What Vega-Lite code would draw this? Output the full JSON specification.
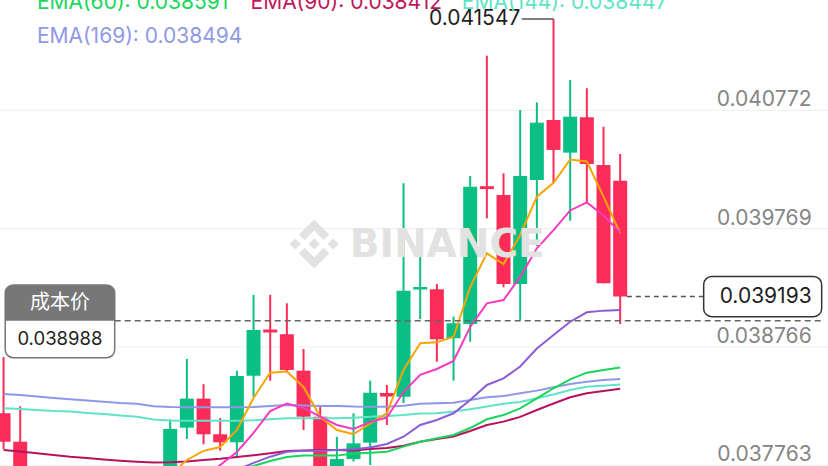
{
  "$schema": "https://vega.github.io/schema/vega-lite/v6.json",
  "width": 828,
  "height": 466,
  "autosize": {"type": "none"},
  "padding": 0,
  "background": "white",
  "config": {"view": {"stroke": null}, "font": "Inter"},
  "datasets": {
    "one": [{"a": 1}],
    "ticks": [{"p": 0.040772}, {"p": 0.039769}, {"p": 0.038766}, {"p": 0.037763}]
  },
  "data": {
    "values": [
      {"i": -1, "o": 0.038204, "h": 0.038681, "l": 0.037901, "c": 0.037963, "e90": 0.037893, "e144": 0.038246, "e169": 0.038367},
      {"i": 0, "o": 0.037963, "h": 0.038263, "l": 0.037596, "c": 0.037681, "e90": 0.03788, "e144": 0.03824, "e169": 0.038359},
      {"i": 1, "e90": 0.037865, "e144": 0.038232, "e169": 0.038346},
      {"i": 2, "e90": 0.037851, "e144": 0.038223, "e169": 0.038334},
      {"i": 3, "e90": 0.037836, "e144": 0.038218, "e169": 0.038323},
      {"i": 4, "e90": 0.037825, "e144": 0.038207, "e169": 0.038312},
      {"i": 5, "e90": 0.037812, "e144": 0.038198, "e169": 0.038302},
      {"i": 6, "e90": 0.037802, "e144": 0.038185, "e169": 0.038291},
      {"i": 7, "e90": 0.037794, "e144": 0.038175, "e169": 0.038285},
      {"i": 8, "e90": 0.037787, "e144": 0.038151, "e169": 0.038263},
      {"i": 9, "o": 0.037639, "h": 0.038153, "l": 0.037554, "c": 0.038071, "e7": 0.037681, "e90": 0.037789, "e144": 0.038143, "e169": 0.038257},
      {"i": 10, "o": 0.038082, "h": 0.038664, "l": 0.037986, "c": 0.038328, "e7": 0.037808, "e90": 0.037796, "e144": 0.038141, "e169": 0.038255},
      {"i": 11, "o": 0.038328, "h": 0.03845, "l": 0.037941, "c": 0.038026, "e7": 0.037885, "e25": 0.037655, "e90": 0.037808, "e144": 0.038141, "e169": 0.038255},
      {"i": 12, "o": 0.038026, "h": 0.038164, "l": 0.037887, "c": 0.037958, "e7": 0.037918, "e25": 0.037766, "e90": 0.037818, "e144": 0.038141, "e169": 0.038255},
      {"i": 13, "o": 0.037958, "h": 0.038565, "l": 0.037836, "c": 0.03852, "e7": 0.038062, "e25": 0.037876, "e99": 0.037723, "e60": 0.037723, "e90": 0.037834, "e144": 0.038141, "e169": 0.038255},
      {"i": 14, "o": 0.038523, "h": 0.039207, "l": 0.038345, "c": 0.03891, "e7": 0.038334, "e25": 0.038037, "e99": 0.037783, "e60": 0.037757, "e90": 0.037848, "e144": 0.038145, "e169": 0.038257},
      {"i": 15, "o": 0.038914, "h": 0.039207, "l": 0.03848, "c": 0.038889, "e7": 0.038548, "e25": 0.038223, "e99": 0.037836, "e60": 0.037799, "e90": 0.037865, "e144": 0.038153, "e169": 0.038266},
      {"i": 16, "o": 0.038874, "h": 0.039136, "l": 0.038554, "c": 0.038571, "e7": 0.038557, "e25": 0.038287, "e99": 0.037878, "e60": 0.037834, "e90": 0.037885, "e144": 0.038162, "e169": 0.038274},
      {"i": 17, "o": 0.038565, "h": 0.038749, "l": 0.038062, "c": 0.038175, "e7": 0.038427, "e25": 0.038249, "e99": 0.037887, "e60": 0.037845, "e90": 0.037889, "e144": 0.038162, "e169": 0.03827},
      {"i": 18, "o": 0.038175, "h": 0.038262, "l": 0.037596, "c": 0.037681, "e7": 0.038174, "e25": 0.038175, "e99": 0.037887, "e60": 0.037845, "e90": 0.037893, "e144": 0.038162, "e169": 0.038266},
      {"i": 19, "o": 0.037656, "h": 0.038005, "l": 0.037571, "c": 0.037816, "e7": 0.038062, "e25": 0.038105, "e99": 0.037893, "e60": 0.037845, "e90": 0.037893, "e144": 0.038162, "e169": 0.038266},
      {"i": 20, "o": 0.037816, "h": 0.038204, "l": 0.037794, "c": 0.037949, "e7": 0.038026, "e25": 0.038071, "e99": 0.037899, "e60": 0.037863, "e90": 0.037889, "e144": 0.038167, "e169": 0.038261},
      {"i": 21, "o": 0.037955, "h": 0.03848, "l": 0.037766, "c": 0.038378, "e7": 0.038118, "e25": 0.038129, "e99": 0.037914, "e60": 0.03787, "e90": 0.037901, "e144": 0.038175, "e169": 0.03826},
      {"i": 22, "o": 0.038376, "h": 0.038444, "l": 0.038105, "c": 0.038346, "e7": 0.038204, "e25": 0.038168, "e99": 0.037944, "e60": 0.037878, "e90": 0.03791, "e144": 0.038181, "e169": 0.03826},
      {"i": 23, "o": 0.038345, "h": 0.040154, "l": 0.038291, "c": 0.039243, "e7": 0.038571, "e25": 0.038384, "e99": 0.038005, "e60": 0.037921, "e90": 0.037929, "e144": 0.038189, "e169": 0.038268},
      {"i": 24, "o": 0.039253, "h": 0.039679, "l": 0.039003, "c": 0.039274, "e7": 0.038797, "e25": 0.038529, "e99": 0.038105, "e60": 0.037963, "e90": 0.037963, "e144": 0.038203, "e169": 0.038285},
      {"i": 25, "o": 0.039255, "h": 0.0393, "l": 0.038641, "c": 0.038831, "e7": 0.038805, "e25": 0.038579, "e99": 0.038147, "e60": 0.037992, "e90": 0.037986, "e144": 0.038204, "e169": 0.038289},
      {"i": 26, "o": 0.03884, "h": 0.039023, "l": 0.03848, "c": 0.038967, "e7": 0.038853, "e25": 0.038647, "e99": 0.038204, "e60": 0.03802, "e90": 0.038007, "e144": 0.038218, "e169": 0.038294},
      {"i": 27, "o": 0.038961, "h": 0.040215, "l": 0.03881, "c": 0.040125, "e7": 0.039274, "e25": 0.038935, "e99": 0.038317, "e60": 0.038079, "e90": 0.038054, "e144": 0.038238, "e169": 0.038317},
      {"i": 28, "o": 0.040129, "h": 0.041235, "l": 0.039857, "c": 0.040104, "e7": 0.03956, "e25": 0.039136, "e99": 0.038444, "e60": 0.038153, "e90": 0.038105, "e144": 0.038262, "e169": 0.03834},
      {"i": 29, "o": 0.040054, "h": 0.040238, "l": 0.039272, "c": 0.0393, "e7": 0.039469, "e25": 0.039164, "e99": 0.0385, "e60": 0.038189, "e90": 0.038133, "e144": 0.038285, "e169": 0.038351},
      {"i": 30, "o": 0.0393, "h": 0.040775, "l": 0.038996, "c": 0.040215, "e7": 0.039715, "e25": 0.039359, "e99": 0.0386, "e60": 0.038245, "e90": 0.038173, "e144": 0.038299, "e169": 0.038373},
      {"i": 31, "o": 0.040181, "h": 0.04084, "l": 0.039622, "c": 0.040667, "e7": 0.04004, "e25": 0.039602, "e99": 0.038753, "e60": 0.038331, "e90": 0.038232, "e144": 0.038331, "e169": 0.038396},
      {"i": 32, "o": 0.04069, "h": 0.041547, "l": 0.040154, "c": 0.040436, "e7": 0.040158, "e25": 0.039757, "e99": 0.038868, "e60": 0.038416, "e90": 0.038287, "e144": 0.038363, "e169": 0.038424},
      {"i": 33, "o": 0.040413, "h": 0.041029, "l": 0.039836, "c": 0.040718, "e7": 0.040355, "e25": 0.039923, "e99": 0.03898, "e60": 0.038492, "e90": 0.03834, "e144": 0.038401, "e169": 0.038452},
      {"i": 34, "o": 0.040713, "h": 0.040959, "l": 0.039978, "c": 0.040317, "e7": 0.040338, "e25": 0.039991, "e99": 0.03906, "e60": 0.038548, "e90": 0.038374, "e144": 0.038429, "e169": 0.038471},
      {"i": 35, "o": 0.040309, "h": 0.040633, "l": 0.039306, "c": 0.039306, "e7": 0.04004, "e25": 0.03988, "e99": 0.039074, "e60": 0.038571, "e90": 0.038393, "e144": 0.038438, "e169": 0.038485},
      {"i": 36, "o": 0.040174, "h": 0.040402, "l": 0.038961, "c": 0.039193, "e7": 0.03973, "e25": 0.039736, "e99": 0.039079, "e60": 0.038591, "e90": 0.038412, "e144": 0.038447, "e169": 0.038494}
    ]
  },
  "layer": [
    {
      "data": {"name": "ticks"},
      "mark": {"type": "rule", "color": "#eeeeee", "strokeWidth": 1},
      "encoding": {
        "y": {"field": "p", "type": "quantitative", "axis": null, "scale": {"domain": [0.037757, 0.041707], "nice": false, "zero": false}}
      }
    },
    {
      "data": {"name": "ticks"},
      "mark": {"type": "text", "align": "right", "baseline": "alphabetic", "dy": -4, "fontSize": 21, "fill": "#858585"},
      "encoding": {
        "x": {"datum": 47.49, "type": "quantitative", "axis": null},
        "y": {"field": "p", "type": "quantitative", "axis": null},
        "text": {"field": "p", "type": "quantitative", "format": ".6f"}
      }
    },
    {
      "transform": [{"filter": "isValid(datum.o)"}],
      "mark": {"type": "rule", "strokeWidth": 2, "clip": true},
      "encoding": {
        "x": {
          "field": "i",
          "type": "quantitative",
          "scale": {"domain": [-0.913, 48.17], "nice": false, "zero": false},
          "axis": {"values": [15, 31], "grid": true, "gridColor": "#eeeeee", "gridWidth": 1, "labels": false, "ticks": false, "domain": false, "title": null}
        },
        "y": {"field": "l", "type": "quantitative", "axis": null},
        "y2": {"field": "h"},
        "color": {"condition": {"test": "datum.c >= datum.o", "value": "#0bbf84"}, "value": "#fb2d58"}
      }
    },
    {
      "transform": [{"filter": "isValid(datum.o)"}],
      "mark": {"type": "bar", "size": 14, "clip": true},
      "encoding": {
        "x": {"field": "i", "type": "quantitative", "axis": null},
        "y": {"field": "o", "type": "quantitative", "axis": null},
        "y2": {"field": "c"},
        "color": {"condition": {"test": "datum.c >= datum.o", "value": "#0bbf84"}, "value": "#fb2d58"}
      }
    },
    {
      "transform": [
        {"fold": ["e169", "e144", "e90", "e60", "e99", "e25", "e7"], "as": ["s", "v"]},
        {"filter": "isValid(datum.v)"}
      ],
      "mark": {"type": "line", "strokeWidth": 2, "clip": true, "interpolate": "linear"},
      "encoding": {
        "x": {"field": "i", "type": "quantitative", "axis": null},
        "y": {"field": "v", "type": "quantitative", "axis": null},
        "color": {
          "field": "s",
          "type": "nominal",
          "legend": null,
          "scale": {
            "domain": ["e7", "e25", "e99", "e60", "e90", "e144", "e169"],
            "range": ["#f7a600", "#f53bc0", "#8c5cd6", "#18d65c", "#b8125e", "#5fe3c9", "#8f98e6"]
          }
        }
      }
    },
    {
      "data": {"name": "one"},
      "mark": {"type": "point", "shape": "M-0.39,-0.155L0,-0.546L0.387,-0.155L0.614,-0.382L0,-1L-0.621,-0.383ZM-0.39,0.155L0,0.546L0.387,0.155L0.614,0.382L0,1L-0.621,0.383ZM-1,0L-0.773,-0.227L-0.546,0L-0.773,0.227ZM1,0L0.773,-0.227L0.546,0L0.773,0.227ZM0,-0.23L0.23,0L0,0.23L-0.23,0Z", "size": 2401, "filled": true, "fill": "#e2e2e2", "strokeWidth": 0, "opacity": 1},
      "encoding": {"x": {"datum": 17.64, "type": "quantitative", "axis": null}, "y": {"datum": 0.039639, "type": "quantitative", "axis": null}}
    },
    {
      "data": {"name": "one"},
      "mark": {"type": "text", "text": "BINANCE", "font": "DejaVu Sans", "fontWeight": "bold", "fontSize": 39, "align": "left", "baseline": "alphabetic", "fill": "#e2e2e2"},
      "encoding": {"x": {"datum": 19.77, "type": "quantitative", "axis": null}, "y": {"datum": 0.039531, "type": "quantitative", "axis": null}}
    },
    {
      "data": {"name": "one"},
      "mark": {"type": "rule", "strokeDash": [6, 4], "strokeWidth": 1.5, "color": "#666666"},
      "encoding": {"x": {"datum": 5.67, "type": "quantitative", "axis": null}, "x2": {"datum": 48.2}, "y": {"datum": 0.038988, "type": "quantitative", "axis": null}}
    },
    {
      "data": {"name": "one"},
      "mark": {"type": "rule", "strokeDash": [5, 4], "strokeWidth": 1.5, "color": "#555555"},
      "encoding": {"x": {"datum": 36.4, "type": "quantitative", "axis": null}, "x2": {"datum": 41.0}, "y": {"datum": 0.039193, "type": "quantitative", "axis": null}}
    },
    {
      "data": {"name": "one"},
      "mark": {"type": "rect", "fill": "white", "stroke": "#333333", "strokeWidth": 1.5, "cornerRadius": 8},
      "encoding": {"x": {"datum": 41.01, "type": "quantitative", "axis": null}, "x2": {"datum": 48.09}, "y": {"datum": 0.039363, "type": "quantitative", "axis": null}, "y2": {"datum": 0.039023}}
    },
    {
      "data": {"name": "one"},
      "mark": {"type": "text", "text": "0.039193", "fontSize": 21, "align": "right", "baseline": "middle", "fill": "#1e1e1e"},
      "encoding": {"x": {"datum": 47.49, "type": "quantitative", "axis": null}, "y": {"datum": 0.039193, "type": "quantitative", "axis": null}}
    },
    {
      "data": {"name": "one"},
      "mark": {"type": "rect", "fill": "white", "stroke": "#777777", "strokeWidth": 1.5, "cornerRadius": 8},
      "encoding": {"x": {"datum": -0.9, "type": "quantitative", "axis": null}, "x2": {"datum": 5.67}, "y": {"datum": 0.039291, "type": "quantitative", "axis": null}, "y2": {"datum": 0.038675}}
    },
    {
      "data": {"name": "one"},
      "mark": {"type": "rect", "fill": "#777777", "cornerRadiusTopLeft": 8, "cornerRadiusTopRight": 8},
      "encoding": {"x": {"datum": -0.9, "type": "quantitative", "axis": null}, "x2": {"datum": 5.67}, "y": {"datum": 0.039291, "type": "quantitative", "axis": null}, "y2": {"datum": 0.038988}}
    },
    {
      "data": {"name": "one"},
      "mark": {"type": "text", "text": "成本价", "font": "Noto Sans CJK SC", "fontSize": 20, "align": "center", "baseline": "middle", "fill": "white"},
      "encoding": {"x": {"datum": 2.38, "type": "quantitative", "axis": null}, "y": {"datum": 0.039139, "type": "quantitative", "axis": null}}
    },
    {
      "data": {"name": "one"},
      "mark": {"type": "text", "text": "0.038988", "fontSize": 18.5, "align": "center", "baseline": "middle", "fill": "#1e1e1e"},
      "encoding": {"x": {"datum": 2.38, "type": "quantitative", "axis": null}, "y": {"datum": 0.038836, "type": "quantitative", "axis": null}}
    },
    {
      "data": {"name": "one"},
      "mark": {"type": "rule", "strokeWidth": 1.5, "color": "#555555"},
      "encoding": {"x": {"datum": 30.09, "type": "quantitative", "axis": null}, "x2": {"datum": 32}, "y": {"datum": 0.041547, "type": "quantitative", "axis": null}}
    },
    {
      "data": {"name": "one"},
      "mark": {"type": "text", "text": "0.041547", "fontSize": 21, "align": "right", "baseline": "middle", "fill": "#1e1e1e"},
      "encoding": {"x": {"datum": 30.01, "type": "quantitative", "axis": null}, "y": {"datum": 0.041547, "type": "quantitative", "axis": null}}
    },
    {
      "data": {"name": "one"},
      "mark": {"type": "text", "text": "EMA(60): 0.038591", "fontSize": 21, "align": "left", "baseline": "alphabetic", "fill": "#18d65c"},
      "encoding": {"x": {"datum": 1.0, "type": "quantitative", "axis": null}, "y": {"datum": 0.0416265, "type": "quantitative", "axis": null}}
    },
    {
      "data": {"name": "one"},
      "mark": {"type": "text", "text": "EMA(90): 0.038412", "fontSize": 21, "align": "left", "baseline": "alphabetic", "fill": "#c0185c"},
      "encoding": {"x": {"datum": 13.82, "type": "quantitative", "axis": null}, "y": {"datum": 0.0416265, "type": "quantitative", "axis": null}}
    },
    {
      "data": {"name": "one"},
      "mark": {"type": "text", "text": "EMA(144): 0.038447", "fontSize": 21, "align": "left", "baseline": "alphabetic", "fill": "#5fe3c9"},
      "encoding": {"x": {"datum": 26.5, "type": "quantitative", "axis": null}, "y": {"datum": 0.0416265, "type": "quantitative", "axis": null}}
    },
    {
      "data": {"name": "one"},
      "mark": {"type": "text", "text": "EMA(169): 0.038494", "fontSize": 21, "align": "left", "baseline": "alphabetic", "fill": "#8f98e6"},
      "encoding": {"x": {"datum": 1.0, "type": "quantitative", "axis": null}, "y": {"datum": 0.041345, "type": "quantitative", "axis": null}}
    }
  ]
}
